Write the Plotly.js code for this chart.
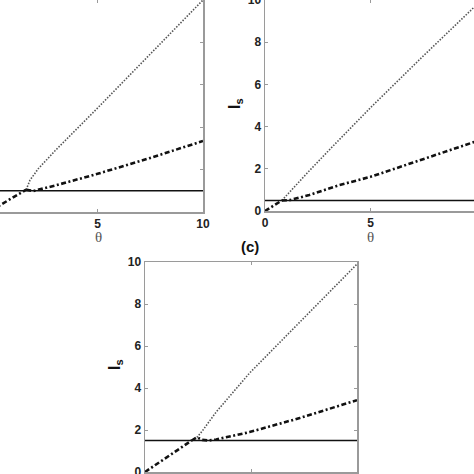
<!DOCTYPE html>
<html>
<head>
<meta charset="utf-8">
<script src="https://cdn.plot.ly/plotly-3.0.1.min.js"></script>
<style>html,body{margin:0;padding:0;background:#fff;}#chart{width:474px;height:474px;}</style>
</head>
<body>
<div id="chart"></div>
<script>
// ---- Panel (a) ----
var aThreshold = 1.0;
var aPreTheta = [0, 0.5, 1, 1.62];
var aPreI = [0.1, 0.4, 0.7, 1.05];
var aDotTheta = [1.62, 1.8, 2.2, 3, 5, 7.5, 10];
var aDotI = [1.05, 1.5, 2.05, 2.9, 4.9, 7.45, 10];
var aDashTheta = [1.62, 1.95, 3, 5, 7.5, 10];
var aDashI = [1.05, 0.99, 1.25, 1.8, 2.55, 3.35];

// ---- Panel (b) ----
var bThreshold = 0.5;
var bPreTheta = [0, 0.4, 0.8];
var bPreI = [0, 0.25, 0.5];
var bDotTheta = [0.8, 1.2, 2, 3, 5, 7.5, 10];
var bDotI = [0.5, 0.95, 1.8, 2.85, 4.9, 7.35, 9.75];
var bDashTheta = [0.8, 1.2, 2.1, 3.5, 5, 7.5, 10];
var bDashI = [0.5, 0.52, 0.76, 1.22, 1.62, 2.45, 3.3];

// ---- Panel (c) ----
var cThreshold = 1.5;
var cPreTheta = [0, 1, 2.2];
var cPreI = [0, 0.68, 1.5];
var cDotTheta = [2.2, 2.45, 2.7, 3.36, 4.93, 7.3, 10];
var cDotI = [1.5, 1.65, 1.95, 2.86, 4.71, 7.14, 9.9];
var cDashTheta = [2.2, 2.45, 2.7, 3, 3.36, 4.93, 7.3, 10];
var cDashI = [1.5, 1.65, 1.53, 1.5, 1.55, 1.9, 2.57, 3.42];

var thetaSpan = [0, 10];
var xTicks = [0, 5, 10];
var yTicks = [0, 2, 4, 6, 8, 10];

var dashStyle = {color: '#111', width: 2.6, dash: '5px,2.5px,2px,2.5px'};
var dotStyle = {color: '#555', width: 1.6, dash: '1.5px,1.5px'};
var solidStyle = {color: '#111', width: 1.6};

function panel(xa, ya, thr, preT, preI, dotT, dotI, dashT, dashI) {
  return [
    {x: thetaSpan, y: [thr, thr], xaxis: xa, yaxis: ya, mode: 'lines', line: solidStyle, hoverinfo: 'skip'},
    {x: dotT, y: dotI, xaxis: xa, yaxis: ya, mode: 'lines', line: dotStyle, hoverinfo: 'skip'},
    {x: preT, y: preI, xaxis: xa, yaxis: ya, mode: 'lines', line: dashStyle, hoverinfo: 'skip'},
    {x: dashT, y: dashI, xaxis: xa, yaxis: ya, mode: 'lines', line: dashStyle, hoverinfo: 'skip'}
  ];
}

var data = [].concat(
  panel('x', 'y', aThreshold, aPreTheta, aPreI, aDotTheta, aDotI, aDashTheta, aDashI),
  panel('x2', 'y2', bThreshold, bPreTheta, bPreI, bDotTheta, bDotI, bDashTheta, bDashI),
  panel('x3', 'y3', cThreshold, cPreTheta, cPreI, cDotTheta, cDotI, cDashTheta, cDashI)
);

var tickFont = {family: 'Arial, "Liberation Sans", sans-serif', size: 12, color: '#222', weight: 'bold'};
var axisBase = {
  showgrid: false, zeroline: false, showline: true, linecolor: '#9a9a9a', linewidth: 1.5,
  ticks: 'inside', ticklen: 3, tickcolor: '#9a9a9a', tickwidth: 1, tickfont: tickFont,
  ticklabeloverflow: 'allow',
  automargin: false, fixedrange: true
};
function ax(extra) { return Object.assign({}, axisBase, extra); }

var W = 474;
var layout = {
  width: 474, height: 474,
  margin: {l: 0, r: 0, t: 0, b: 0},
  paper_bgcolor: '#fff', plot_bgcolor: '#fff',
  showlegend: false,
  xaxis: ax({domain: [0, 203 / W], range: [0.38, 10], tickvals: xTicks, mirror: 'ticks', anchor: 'y'}),
  yaxis: ax({domain: [1 - 212 / W, 1], range: [0, 10], tickvals: yTicks, side: 'right', showticklabels: false, anchor: 'x'}),
  xaxis2: ax({domain: [265 / W, 1], range: [0, 9.9], tickvals: xTicks, mirror: 'ticks', anchor: 'y2'}),
  yaxis2: ax({domain: [1 - 211 / W, 1], range: [0, 10], tickvals: yTicks, anchor: 'x2'}),
  xaxis3: ax({domain: [145 / W, 357 / W], range: [0, 10], tickvals: xTicks, mirror: 'ticks', anchor: 'y3'}),
  yaxis3: ax({domain: [2 / W, 1 - 262 / W], range: [0, 10], tickvals: yTicks, mirror: 'ticks', anchor: 'x3'}),
  annotations: [
    {text: 'θ', xref: 'paper', yref: 'paper', x: 98 / W, y: 1 - 237 / W, showarrow: false, xanchor: 'center', yanchor: 'middle',
     font: {family: '"Liberation Serif", "Times New Roman", serif', size: 15, color: '#555'}},
    {text: 'θ', xref: 'paper', yref: 'paper', x: 370 / W, y: 1 - 237 / W, showarrow: false, xanchor: 'center', yanchor: 'middle',
     font: {family: '"Liberation Serif", "Times New Roman", serif', size: 15, color: '#555'}},
    {text: '(c)', xref: 'paper', yref: 'paper', x: 250 / W, y: 1 - 247 / W, showarrow: false, xanchor: 'center', yanchor: 'middle',
     font: {family: 'Arial, "Liberation Sans", sans-serif', size: 15, color: '#111', weight: 'bold'}},
    {text: 'I<sub>s</sub>', xref: 'paper', yref: 'paper', x: 235 / W, y: 1 - 104 / W, showarrow: false, textangle: -90, xanchor: 'center', yanchor: 'middle',
     font: {family: 'Arial, "Liberation Sans", sans-serif', size: 16, color: '#111', weight: 'bold'}},
    {text: 'I<sub>s</sub>', xref: 'paper', yref: 'paper', x: 115 / W, y: 1 - 365 / W, showarrow: false, textangle: -90, xanchor: 'center', yanchor: 'middle',
     font: {family: 'Arial, "Liberation Sans", sans-serif', size: 16, color: '#111', weight: 'bold'}}
  ]
};

Plotly.newPlot('chart', data, layout, {displayModeBar: false, staticPlot: true});
</script>
</body>
</html>
